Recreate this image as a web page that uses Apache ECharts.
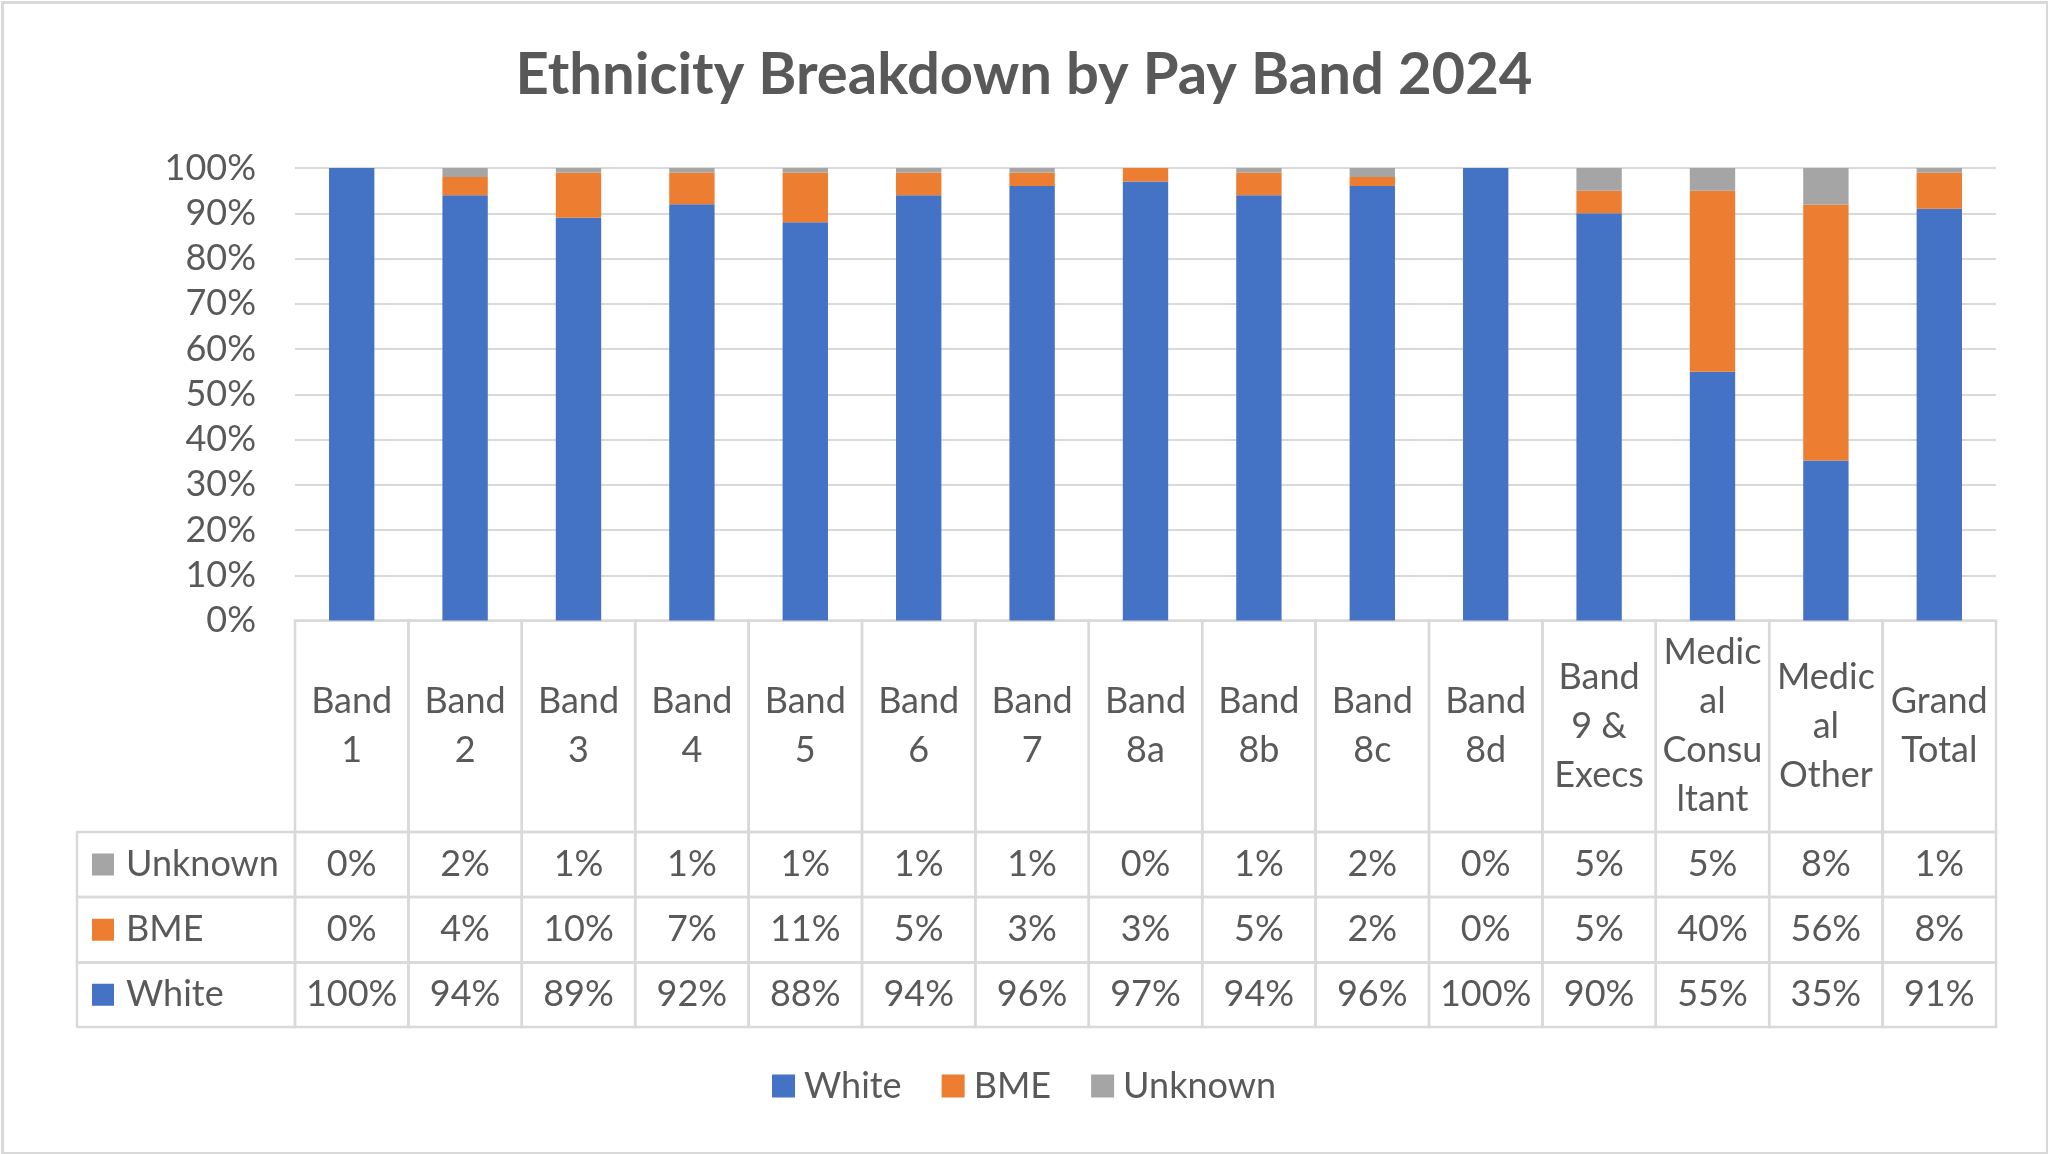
<!DOCTYPE html>
<html><head><meta charset="utf-8">
<script src="https://cdn.jsdelivr.net/npm/echarts@6/dist/echarts.min.js"></script>
<style>html,body{margin:0;padding:0;background:#fff}#c{width:2048px;height:1154px}</style>
</head><body><div id="c"></div>
<script>
// ---- data ----
const categories = ['Band\n1','Band\n2','Band\n3','Band\n4','Band\n5','Band\n6','Band\n7','Band\n8a','Band\n8b','Band\n8c','Band\n8d','Band\n9 &\nExecs','Medic\nal\nConsu\nltant','Medic\nal\nOther','Grand\nTotal'];
const whiteVals   = [100,94,89,92,88,94,96,97,94,96,100,90,55,35,91];
const bmeVals     = [0,4,10,7,11,5,3,3,5,2,0,5,40,56,8];
const unknownVals = [0,2,1,1,1,1,1,0,1,2,0,5,5,8,1];
const seriesNames = ['White','BME','Unknown'];
const tableRowNames = ['Unknown','BME','White'];

// ---- styling ----
const FONT = 'Lato';
const TXT = '#595959';
const LINE = '#d9d9d9';
const COLORS = {White:'#4472C4', BME:'#ED7D31', Unknown:'#A5A5A5'};
const FS = 36;
const ROW_EDGES = [0, 211.5, 276.5, 342, 406.5]; // table layout (header + 3 rows)
const LABEL_COL_W = 218;

const valsByName = {White: whiteVals, BME: bmeVals, Unknown: unknownVals};
const totals = categories.map((_, i) => whiteVals[i] + bmeVals[i] + unknownVals[i]);
const pct = arr => arr.map((v, i) => totals[i] ? v / totals[i] * 100 : 0);

const chart = echarts.init(document.getElementById('c'), null, {renderer: 'canvas'});

function cellRect(x, y, w, h) {
  return {type: 'rect', shape: {x: x, y: y, width: w, height: h},
          style: {fill: 'none', stroke: LINE, lineWidth: 2.5}};
}
function cellText(text, x, y, align) {
  return {type: 'text', style: {text: text, x: x, y: y, align: align || 'center', verticalAlign: 'middle',
          fontSize: FS, fontFamily: FONT, fill: TXT, lineHeight: 49}};
}

function renderColumn(params, api) {
  const i = api.value(0);
  const w = api.size([1, 0])[0];
  const cx = api.coord([i, 0])[0];
  const x0 = cx - w / 2;
  const ys = ROW_EDGES.map(e => api.coord([i, e])[1]);
  const children = [];
  children.push(cellRect(x0, ys[0], w, ys[1] - ys[0]));
  children.push(cellText(categories[i], cx, (ys[0] + ys[1]) / 2));
  tableRowNames.forEach((name, r) => {
    const y0 = ys[r + 1], y1 = ys[r + 2];
    children.push(cellRect(x0, y0, w, y1 - y0));
    children.push(cellText(valsByName[name][i] + '%', cx, (y0 + y1) / 2));
  });
  return {type: 'group', children: children};
}

function renderRowLabel(params, api) {
  const r = api.value(0);
  const w = api.size([1, 0])[0];
  const left = api.coord([0, 0])[0] - w / 2 - LABEL_COL_W;
  const y0 = api.coord([0, ROW_EDGES[r + 1]])[1];
  const y1 = api.coord([0, ROW_EDGES[r + 2]])[1];
  const name = tableRowNames[r];
  const ym = (y0 + y1) / 2;
  return {type: 'group', children: [
    cellRect(left, y0, LABEL_COL_W, y1 - y0),
    {type: 'rect', shape: {x: left + 15, y: ym - 11, width: 22, height: 22}, style: {fill: COLORS[name]}},
    cellText(name, left + 49, ym, 'left')
  ]};
}

const option = {
  backgroundColor: '#fff',
  animation: false,
  title: {
    text: 'Ethnicity Breakdown by Pay Band 2024',
    left: 'center', top: 41,
    textStyle: {fontFamily: FONT, fontWeight: 'bold', fontSize: 58, color: TXT}
  },
  legend: {
    data: seriesNames,
    left: 'center', top: 1063,
    icon: 'rect', itemWidth: 23, itemHeight: 23, itemGap: 40,
    textStyle: {fontFamily: FONT, fontSize: FS, color: TXT, padding: [0, 0, 0, 4]}
  },
  graphic: [{
    type: 'rect', left: 0, top: 0, silent: true, z: 100,
    shape: {x: 0, y: 0, width: 2045, height: 1151},
    style: {fill: 'none', stroke: LINE, lineWidth: 3}
  }],
  grid: [
    {left: 295, right: 52, top: 168, height: 452.5},
    {left: 295, right: 52, top: 620.5, height: 406.5}
  ],
  xAxis: [
    {type: 'category', gridIndex: 0, data: categories, axisLabel: {show: false},
     axisTick: {show: false}, axisLine: {show: false}},
    {type: 'category', gridIndex: 1, data: categories, show: false}
  ],
  yAxis: [
    {type: 'value', gridIndex: 0, min: 0, max: 100, interval: 10,
     axisLabel: {formatter: '{value}%', fontFamily: FONT, fontSize: FS, color: TXT, margin: 39},
     axisLine: {show: false}, axisTick: {show: false},
     splitLine: {lineStyle: {color: LINE, width: 2}}},
    {type: 'value', gridIndex: 1, min: ROW_EDGES[0], max: ROW_EDGES[ROW_EDGES.length - 1], inverse: true, show: false}
  ],
  series: [
    ...seriesNames.map(name => ({
      name: name, type: 'bar', stack: 'total', xAxisIndex: 0, yAxisIndex: 0,
      barWidth: '40%', itemStyle: {color: COLORS[name]},
      data: pct(valsByName[name])
    })),
    {type: 'custom', name: 'tableCols', xAxisIndex: 1, yAxisIndex: 1, clip: false,
     renderItem: renderColumn, data: categories.map((_, i) => [i]), silent: true},
    {type: 'custom', name: 'tableRows', xAxisIndex: 1, yAxisIndex: 1, clip: false,
     renderItem: renderRowLabel, data: tableRowNames.map((_, r) => [r]), silent: true}
  ]
};
chart.setOption(option);
</script>
</body></html>
